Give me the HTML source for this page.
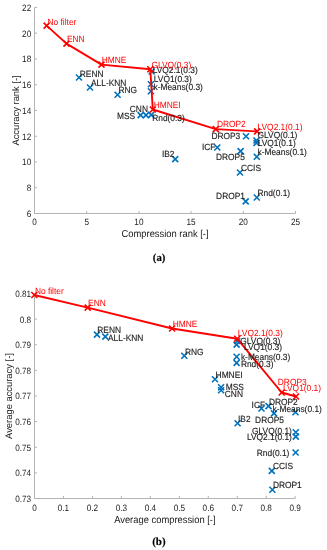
<!DOCTYPE html>
<html><head><meta charset="utf-8"><title>Accuracy vs compression</title>
<style>
html,body{margin:0;padding:0;background:#fff;}
body{width:327px;height:550px;overflow:hidden;}
svg{display:block;font-family:"Liberation Sans",Arial,sans-serif;}
text{paint-order:stroke;text-rendering:geometricPrecision;}
</style></head><body>
<svg width="327" height="550" viewBox="0 0 327 550">
<path d="M34.5 7.4V213.5H295.5" stroke="#b4b4b4" stroke-width="1" fill="none"/>
<path d="M34.5 213.50h2.6" stroke="#b4b4b4" stroke-width="1"/>
<text transform="translate(31.20 216.95) scale(1 1.12)" fill="#1a1a1a" font-size="8.2" text-anchor="end">6</text>
<path d="M34.5 187.74h2.6" stroke="#b4b4b4" stroke-width="1"/>
<text transform="translate(31.20 191.19) scale(1 1.12)" fill="#1a1a1a" font-size="8.2" text-anchor="end">8</text>
<path d="M34.5 161.97h2.6" stroke="#b4b4b4" stroke-width="1"/>
<text transform="translate(31.20 165.42) scale(1 1.12)" fill="#1a1a1a" font-size="8.2" text-anchor="end">10</text>
<path d="M34.5 136.21h2.6" stroke="#b4b4b4" stroke-width="1"/>
<text transform="translate(31.20 139.66) scale(1 1.12)" fill="#1a1a1a" font-size="8.2" text-anchor="end">12</text>
<path d="M34.5 110.45h2.6" stroke="#b4b4b4" stroke-width="1"/>
<text transform="translate(31.20 113.90) scale(1 1.12)" fill="#1a1a1a" font-size="8.2" text-anchor="end">14</text>
<path d="M34.5 84.69h2.6" stroke="#b4b4b4" stroke-width="1"/>
<text transform="translate(31.20 88.14) scale(1 1.12)" fill="#1a1a1a" font-size="8.2" text-anchor="end">16</text>
<path d="M34.5 58.93h2.6" stroke="#b4b4b4" stroke-width="1"/>
<text transform="translate(31.20 62.38) scale(1 1.12)" fill="#1a1a1a" font-size="8.2" text-anchor="end">18</text>
<path d="M34.5 33.16h2.6" stroke="#b4b4b4" stroke-width="1"/>
<text transform="translate(31.20 36.61) scale(1 1.12)" fill="#1a1a1a" font-size="8.2" text-anchor="end">20</text>
<path d="M34.5 7.40h2.6" stroke="#b4b4b4" stroke-width="1"/>
<text transform="translate(31.20 10.85) scale(1 1.12)" fill="#1a1a1a" font-size="8.2" text-anchor="end">22</text>
<path d="M34.50 213.5v-2.6" stroke="#b4b4b4" stroke-width="1"/>
<text transform="translate(34.50 224.75) scale(1 1.12)" fill="#1a1a1a" font-size="8.2" text-anchor="middle">0</text>
<path d="M86.70 213.5v-2.6" stroke="#b4b4b4" stroke-width="1"/>
<text transform="translate(86.70 224.75) scale(1 1.12)" fill="#1a1a1a" font-size="8.2" text-anchor="middle">5</text>
<path d="M138.90 213.5v-2.6" stroke="#b4b4b4" stroke-width="1"/>
<text transform="translate(138.90 224.75) scale(1 1.12)" fill="#1a1a1a" font-size="8.2" text-anchor="middle">10</text>
<path d="M191.10 213.5v-2.6" stroke="#b4b4b4" stroke-width="1"/>
<text transform="translate(191.10 224.75) scale(1 1.12)" fill="#1a1a1a" font-size="8.2" text-anchor="middle">15</text>
<path d="M243.30 213.5v-2.6" stroke="#b4b4b4" stroke-width="1"/>
<text transform="translate(243.30 224.75) scale(1 1.12)" fill="#1a1a1a" font-size="8.2" text-anchor="middle">20</text>
<path d="M295.50 213.5v-2.6" stroke="#b4b4b4" stroke-width="1"/>
<text transform="translate(295.50 224.75) scale(1 1.12)" fill="#1a1a1a" font-size="8.2" text-anchor="middle">25</text>
<text transform="translate(165.00 237.30) scale(1 1.07)" fill="#1a1a1a" font-size="9.4" text-anchor="middle">Compression rank [-]</text>
<text x="0" y="0" fill="#1a1a1a" font-size="9.4" text-anchor="middle" transform="translate(19.2 110.45) rotate(-90)">Accuracy rank [-]</text>
<path d="M76.00 74.50L82.00 80.50M76.00 80.50L82.00 74.50" stroke="#0072bd" stroke-width="1.6" fill="none"/>
<path d="M87.00 84.50L93.00 90.50M87.00 90.50L93.00 84.50" stroke="#0072bd" stroke-width="1.6" fill="none"/>
<path d="M114.60 91.80L120.60 97.80M114.60 97.80L120.60 91.80" stroke="#0072bd" stroke-width="1.6" fill="none"/>
<path d="M148.60 68.50L154.60 74.50M148.60 74.50L154.60 68.50" stroke="#0072bd" stroke-width="1.6" fill="none"/>
<path d="M147.90 81.30L153.90 87.30M147.90 87.30L153.90 81.30" stroke="#0072bd" stroke-width="1.6" fill="none"/>
<path d="M147.90 88.20L153.90 94.20M147.90 94.20L153.90 88.20" stroke="#0072bd" stroke-width="1.6" fill="none"/>
<path d="M137.60 112.10L143.60 118.10M137.60 118.10L143.60 112.10" stroke="#0072bd" stroke-width="1.6" fill="none"/>
<path d="M143.00 112.10L149.00 118.10M143.00 118.10L149.00 112.10" stroke="#0072bd" stroke-width="1.6" fill="none"/>
<path d="M148.20 111.90L154.20 117.90M148.20 117.90L154.20 111.90" stroke="#0072bd" stroke-width="1.6" fill="none"/>
<path d="M243.00 133.30L249.00 139.30M243.00 139.30L249.00 133.30" stroke="#0072bd" stroke-width="1.6" fill="none"/>
<path d="M253.50 137.50L259.50 143.50M253.50 143.50L259.50 137.50" stroke="#0072bd" stroke-width="1.6" fill="none"/>
<path d="M253.50 140.00L259.50 146.00M253.50 146.00L259.50 140.00" stroke="#0072bd" stroke-width="1.6" fill="none"/>
<path d="M253.80 153.80L259.80 159.80M253.80 159.80L259.80 153.80" stroke="#0072bd" stroke-width="1.6" fill="none"/>
<path d="M214.30 144.50L220.30 150.50M214.30 150.50L220.30 144.50" stroke="#0072bd" stroke-width="1.6" fill="none"/>
<path d="M237.60 148.10L243.60 154.10M237.60 154.10L243.60 148.10" stroke="#0072bd" stroke-width="1.6" fill="none"/>
<path d="M237.00 169.50L243.00 175.50M237.00 175.50L243.00 169.50" stroke="#0072bd" stroke-width="1.6" fill="none"/>
<path d="M172.20 156.10L178.20 162.10M172.20 162.10L178.20 156.10" stroke="#0072bd" stroke-width="1.6" fill="none"/>
<path d="M242.70 198.40L248.70 204.40M242.70 204.40L248.70 198.40" stroke="#0072bd" stroke-width="1.6" fill="none"/>
<path d="M253.80 194.50L259.80 200.50M253.80 200.50L259.80 194.50" stroke="#0072bd" stroke-width="1.6" fill="none"/>
<path d="M46.60 25.60L66.50 43.60L101.50 64.60L150.30 69.30L152.80 109.50L215.80 129.10L257.10 131.40" stroke="#ff0000" stroke-width="1.9" fill="none" stroke-linejoin="round"/>
<path d="M43.60 22.60L49.60 28.60M43.60 28.60L49.60 22.60" stroke="#ff0000" stroke-width="1.6" fill="none"/>
<path d="M63.50 40.60L69.50 46.60M63.50 46.60L69.50 40.60" stroke="#ff0000" stroke-width="1.6" fill="none"/>
<path d="M98.50 61.60L104.50 67.60M98.50 67.60L104.50 61.60" stroke="#ff0000" stroke-width="1.6" fill="none"/>
<path d="M147.30 66.30L153.30 72.30M147.30 72.30L153.30 66.30" stroke="#ff0000" stroke-width="1.6" fill="none"/>
<path d="M149.80 106.50L155.80 112.50M149.80 112.50L155.80 106.50" stroke="#ff0000" stroke-width="1.6" fill="none"/>
<path d="M212.80 126.10L218.80 132.10M212.80 132.10L218.80 126.10" stroke="#ff0000" stroke-width="1.6" fill="none"/>
<path d="M254.10 128.40L260.10 134.40M254.10 134.40L260.10 128.40" stroke="#ff0000" stroke-width="1.6" fill="none"/>
<text transform="translate(79.80 76.50) scale(1 1.07)" fill="#1a1a1a" stroke="#1a1a1a" stroke-width="0.12" font-size="8.4">RENN</text>
<text transform="translate(91.00 85.80) scale(1 1.07)" fill="#1a1a1a" stroke="#1a1a1a" stroke-width="0.12" font-size="8.4">ALL-KNN</text>
<text transform="translate(118.50 92.80) scale(1 1.07)" fill="#1a1a1a" stroke="#1a1a1a" stroke-width="0.12" font-size="8.4">RNG</text>
<text transform="translate(152.70 73.20) scale(1 1.07)" fill="#1a1a1a" stroke="#1a1a1a" stroke-width="0.12" font-size="8.4">LVQ2.1(0.3)</text>
<text transform="translate(153.80 82.10) scale(1 1.07)" fill="#1a1a1a" stroke="#1a1a1a" stroke-width="0.12" font-size="8.4">LVQ1(0.3)</text>
<text transform="translate(153.50 90.30) scale(1 1.07)" fill="#1a1a1a" stroke="#1a1a1a" stroke-width="0.12" font-size="8.4">k-Means(0.3)</text>
<text transform="translate(116.90 118.80) scale(1 1.07)" fill="#1a1a1a" stroke="#1a1a1a" stroke-width="0.12" font-size="8.4">MSS</text>
<text transform="translate(129.80 112.20) scale(1 1.07)" fill="#1a1a1a" stroke="#1a1a1a" stroke-width="0.12" font-size="8.4">CNN</text>
<text transform="translate(152.20 120.70) scale(1 1.07)" fill="#1a1a1a" stroke="#1a1a1a" stroke-width="0.12" font-size="8.4">Rnd(0.3)</text>
<text transform="translate(211.40 139.20) scale(1 1.07)" fill="#1a1a1a" stroke="#1a1a1a" stroke-width="0.12" font-size="8.4">DROP3</text>
<text transform="translate(257.50 137.50) scale(1 1.07)" fill="#1a1a1a" stroke="#1a1a1a" stroke-width="0.12" font-size="8.4">GLVQ(0.1)</text>
<text transform="translate(257.70 146.10) scale(1 1.07)" fill="#1a1a1a" stroke="#1a1a1a" stroke-width="0.12" font-size="8.4">LVQ1(0.1)</text>
<text transform="translate(257.50 155.20) scale(1 1.07)" fill="#1a1a1a" stroke="#1a1a1a" stroke-width="0.12" font-size="8.4">k-Means(0.1)</text>
<text transform="translate(201.90 150.30) scale(1 1.07)" fill="#1a1a1a" stroke="#1a1a1a" stroke-width="0.12" font-size="8.4">ICF</text>
<text transform="translate(216.00 160.40) scale(1 1.07)" fill="#1a1a1a" stroke="#1a1a1a" stroke-width="0.12" font-size="8.4">DROP5</text>
<text transform="translate(241.00 171.30) scale(1 1.07)" fill="#1a1a1a" stroke="#1a1a1a" stroke-width="0.12" font-size="8.4">CCIS</text>
<text transform="translate(161.90 156.80) scale(1 1.07)" fill="#1a1a1a" stroke="#1a1a1a" stroke-width="0.12" font-size="8.4">IB2</text>
<text transform="translate(216.10 199.00) scale(1 1.07)" fill="#1a1a1a" stroke="#1a1a1a" stroke-width="0.12" font-size="8.4">DROP1</text>
<text transform="translate(257.50 195.80) scale(1 1.07)" fill="#1a1a1a" stroke="#1a1a1a" stroke-width="0.12" font-size="8.4">Rnd(0.1)</text>
<text transform="translate(47.50 25.00) scale(1 1.07)" fill="#ff0000" font-size="8.4">No filter</text>
<text transform="translate(66.90 42.30) scale(1 1.07)" fill="#ff0000" font-size="8.4">ENN</text>
<text transform="translate(101.80 62.80) scale(1 1.07)" fill="#ff0000" font-size="8.4">HMNE</text>
<text transform="translate(151.40 67.60) scale(1 1.07)" fill="#ff0000" font-size="8.4">GLVQ(0.3)</text>
<text transform="translate(153.70 108.00) scale(1 1.07)" fill="#ff0000" font-size="8.4">HMNEI</text>
<text transform="translate(216.90 127.30) scale(1 1.07)" fill="#ff0000" font-size="8.4">DROP2</text>
<text transform="translate(257.50 130.10) scale(1 1.07)" fill="#ff0000" font-size="8.4">LVQ2.1(0.1)</text>
<text x="159.10" y="260.70" fill="#000" stroke="#000" stroke-width="0.15" font-size="10.8" text-anchor="middle" font-family="Liberation Serif, serif" font-weight="bold">(a)</text>
<path d="M34.5 293.5V498.5H295.2" stroke="#b4b4b4" stroke-width="1" fill="none"/>
<path d="M34.5 498.50h2.6" stroke="#b4b4b4" stroke-width="1"/>
<text transform="translate(31.10 501.95) scale(1 1.12)" fill="#1a1a1a" font-size="8.2" text-anchor="end">0.73</text>
<path d="M34.5 472.88h2.6" stroke="#b4b4b4" stroke-width="1"/>
<text transform="translate(31.10 476.32) scale(1 1.12)" fill="#1a1a1a" font-size="8.2" text-anchor="end">0.74</text>
<path d="M34.5 447.25h2.6" stroke="#b4b4b4" stroke-width="1"/>
<text transform="translate(31.10 450.70) scale(1 1.12)" fill="#1a1a1a" font-size="8.2" text-anchor="end">0.75</text>
<path d="M34.5 421.62h2.6" stroke="#b4b4b4" stroke-width="1"/>
<text transform="translate(31.10 425.07) scale(1 1.12)" fill="#1a1a1a" font-size="8.2" text-anchor="end">0.76</text>
<path d="M34.5 396.00h2.6" stroke="#b4b4b4" stroke-width="1"/>
<text transform="translate(31.10 399.45) scale(1 1.12)" fill="#1a1a1a" font-size="8.2" text-anchor="end">0.77</text>
<path d="M34.5 370.37h2.6" stroke="#b4b4b4" stroke-width="1"/>
<text transform="translate(31.10 373.82) scale(1 1.12)" fill="#1a1a1a" font-size="8.2" text-anchor="end">0.78</text>
<path d="M34.5 344.75h2.6" stroke="#b4b4b4" stroke-width="1"/>
<text transform="translate(31.10 348.20) scale(1 1.12)" fill="#1a1a1a" font-size="8.2" text-anchor="end">0.79</text>
<path d="M34.5 319.12h2.6" stroke="#b4b4b4" stroke-width="1"/>
<text transform="translate(31.10 322.57) scale(1 1.12)" fill="#1a1a1a" font-size="8.2" text-anchor="end">0.8</text>
<path d="M34.5 293.50h2.6" stroke="#b4b4b4" stroke-width="1"/>
<text transform="translate(31.10 296.95) scale(1 1.12)" fill="#1a1a1a" font-size="8.2" text-anchor="end">0.81</text>
<path d="M34.50 498.5v-2.6" stroke="#b4b4b4" stroke-width="1"/>
<text transform="translate(34.50 511.45) scale(1 1.12)" fill="#1a1a1a" font-size="8.2" text-anchor="middle">0</text>
<path d="M63.47 498.5v-2.6" stroke="#b4b4b4" stroke-width="1"/>
<text transform="translate(63.47 511.45) scale(1 1.12)" fill="#1a1a1a" font-size="8.2" text-anchor="middle">0.1</text>
<path d="M92.43 498.5v-2.6" stroke="#b4b4b4" stroke-width="1"/>
<text transform="translate(92.43 511.45) scale(1 1.12)" fill="#1a1a1a" font-size="8.2" text-anchor="middle">0.2</text>
<path d="M121.40 498.5v-2.6" stroke="#b4b4b4" stroke-width="1"/>
<text transform="translate(121.40 511.45) scale(1 1.12)" fill="#1a1a1a" font-size="8.2" text-anchor="middle">0.3</text>
<path d="M150.37 498.5v-2.6" stroke="#b4b4b4" stroke-width="1"/>
<text transform="translate(150.37 511.45) scale(1 1.12)" fill="#1a1a1a" font-size="8.2" text-anchor="middle">0.4</text>
<path d="M179.33 498.5v-2.6" stroke="#b4b4b4" stroke-width="1"/>
<text transform="translate(179.33 511.45) scale(1 1.12)" fill="#1a1a1a" font-size="8.2" text-anchor="middle">0.5</text>
<path d="M208.30 498.5v-2.6" stroke="#b4b4b4" stroke-width="1"/>
<text transform="translate(208.30 511.45) scale(1 1.12)" fill="#1a1a1a" font-size="8.2" text-anchor="middle">0.6</text>
<path d="M237.27 498.5v-2.6" stroke="#b4b4b4" stroke-width="1"/>
<text transform="translate(237.27 511.45) scale(1 1.12)" fill="#1a1a1a" font-size="8.2" text-anchor="middle">0.7</text>
<path d="M266.23 498.5v-2.6" stroke="#b4b4b4" stroke-width="1"/>
<text transform="translate(266.23 511.45) scale(1 1.12)" fill="#1a1a1a" font-size="8.2" text-anchor="middle">0.8</text>
<path d="M295.20 498.5v-2.6" stroke="#b4b4b4" stroke-width="1"/>
<text transform="translate(295.20 511.45) scale(1 1.12)" fill="#1a1a1a" font-size="8.2" text-anchor="middle">0.9</text>
<text transform="translate(164.85 522.60) scale(1 1.07)" fill="#1a1a1a" font-size="9.4" text-anchor="middle">Average compression [-]</text>
<text x="0" y="0" fill="#1a1a1a" font-size="9.4" text-anchor="middle" transform="translate(11.8 396.00) rotate(-90)">Average accuracy [-]</text>
<path d="M94.00 331.60L100.00 337.60M94.00 337.60L100.00 331.60" stroke="#0072bd" stroke-width="1.6" fill="none"/>
<path d="M102.30 333.60L108.30 339.60M102.30 339.60L108.30 333.60" stroke="#0072bd" stroke-width="1.6" fill="none"/>
<path d="M181.30 352.80L187.30 358.80M181.30 358.80L187.30 352.80" stroke="#0072bd" stroke-width="1.6" fill="none"/>
<path d="M234.20 338.00L240.20 344.00M234.20 344.00L240.20 338.00" stroke="#0072bd" stroke-width="1.6" fill="none"/>
<path d="M233.60 341.60L239.60 347.60M233.60 347.60L239.60 341.60" stroke="#0072bd" stroke-width="1.6" fill="none"/>
<path d="M233.60 353.80L239.60 359.80M233.60 359.80L239.60 353.80" stroke="#0072bd" stroke-width="1.6" fill="none"/>
<path d="M233.60 359.90L239.60 365.90M233.60 365.90L239.60 359.90" stroke="#0072bd" stroke-width="1.6" fill="none"/>
<path d="M212.00 376.30L218.00 382.30M212.00 382.30L218.00 376.30" stroke="#0072bd" stroke-width="1.6" fill="none"/>
<path d="M218.10 384.20L224.10 390.20M218.10 390.20L224.10 384.20" stroke="#0072bd" stroke-width="1.6" fill="none"/>
<path d="M218.10 387.30L224.10 393.30M218.10 393.30L224.10 387.30" stroke="#0072bd" stroke-width="1.6" fill="none"/>
<path d="M234.60 420.30L240.60 426.30M234.60 426.30L240.60 420.30" stroke="#0072bd" stroke-width="1.6" fill="none"/>
<path d="M258.50 405.50L264.50 411.50M258.50 411.50L264.50 405.50" stroke="#0072bd" stroke-width="1.6" fill="none"/>
<path d="M265.50 403.10L271.50 409.10M265.50 409.10L271.50 403.10" stroke="#0072bd" stroke-width="1.6" fill="none"/>
<path d="M271.00 410.40L277.00 416.40M271.00 416.40L277.00 410.40" stroke="#0072bd" stroke-width="1.6" fill="none"/>
<path d="M292.50 409.20L298.50 415.20M292.50 415.20L298.50 409.20" stroke="#0072bd" stroke-width="1.6" fill="none"/>
<path d="M292.80 429.20L298.80 435.20M292.80 435.20L298.80 429.20" stroke="#0072bd" stroke-width="1.6" fill="none"/>
<path d="M292.80 433.60L298.80 439.60M292.80 439.60L298.80 433.60" stroke="#0072bd" stroke-width="1.6" fill="none"/>
<path d="M292.60 449.50L298.60 455.50M292.60 455.50L298.60 449.50" stroke="#0072bd" stroke-width="1.6" fill="none"/>
<path d="M268.80 467.90L274.80 473.90M268.80 473.90L274.80 467.90" stroke="#0072bd" stroke-width="1.6" fill="none"/>
<path d="M269.40 486.80L275.40 492.80M269.40 492.80L275.40 486.80" stroke="#0072bd" stroke-width="1.6" fill="none"/>
<path d="M34.30 295.00L87.70 307.60L172.10 328.50L237.20 338.70L281.70 392.50L296.00 396.50" stroke="#ff0000" stroke-width="1.9" fill="none" stroke-linejoin="round"/>
<path d="M31.30 292.00L37.30 298.00M31.30 298.00L37.30 292.00" stroke="#ff0000" stroke-width="1.6" fill="none"/>
<path d="M84.70 304.60L90.70 310.60M84.70 310.60L90.70 304.60" stroke="#ff0000" stroke-width="1.6" fill="none"/>
<path d="M169.10 325.50L175.10 331.50M169.10 331.50L175.10 325.50" stroke="#ff0000" stroke-width="1.6" fill="none"/>
<path d="M234.20 335.70L240.20 341.70M234.20 341.70L240.20 335.70" stroke="#ff0000" stroke-width="1.6" fill="none"/>
<path d="M278.70 389.50L284.70 395.50M278.70 395.50L284.70 389.50" stroke="#ff0000" stroke-width="1.6" fill="none"/>
<path d="M293.00 393.50L299.00 399.50M293.00 399.50L299.00 393.50" stroke="#ff0000" stroke-width="1.6" fill="none"/>
<text transform="translate(97.30 333.00) scale(1 1.07)" fill="#1a1a1a" stroke="#1a1a1a" stroke-width="0.12" font-size="8.4">RENN</text>
<text transform="translate(108.00 341.00) scale(1 1.07)" fill="#1a1a1a" stroke="#1a1a1a" stroke-width="0.12" font-size="8.4">ALL-KNN</text>
<text transform="translate(185.00 354.60) scale(1 1.07)" fill="#1a1a1a" stroke="#1a1a1a" stroke-width="0.12" font-size="8.4">RNG</text>
<text transform="translate(240.30 343.50) scale(1 1.07)" fill="#1a1a1a" stroke="#1a1a1a" stroke-width="0.12" font-size="8.4">GLVQ(0.3)</text>
<text transform="translate(244.00 349.70) scale(1 1.07)" fill="#1a1a1a" stroke="#1a1a1a" stroke-width="0.12" font-size="8.4">LVQ1(0.3)</text>
<text transform="translate(240.90 360.10) scale(1 1.07)" fill="#1a1a1a" stroke="#1a1a1a" stroke-width="0.12" font-size="8.4">k-Means(0.3)</text>
<text transform="translate(240.90 366.80) scale(1 1.07)" fill="#1a1a1a" stroke="#1a1a1a" stroke-width="0.12" font-size="8.4">Rnd(0.3)</text>
<text transform="translate(215.60 377.70) scale(1 1.07)" fill="#1a1a1a" stroke="#1a1a1a" stroke-width="0.12" font-size="8.4">HMNEI</text>
<text transform="translate(225.70 389.60) scale(1 1.07)" fill="#1a1a1a" stroke="#1a1a1a" stroke-width="0.12" font-size="8.4">MSS</text>
<text transform="translate(224.80 396.60) scale(1 1.07)" fill="#1a1a1a" stroke="#1a1a1a" stroke-width="0.12" font-size="8.4">CNN</text>
<text transform="translate(238.00 421.70) scale(1 1.07)" fill="#1a1a1a" stroke="#1a1a1a" stroke-width="0.12" font-size="8.4">IB2</text>
<text transform="translate(251.60 407.80) scale(1 1.07)" fill="#1a1a1a" stroke="#1a1a1a" stroke-width="0.12" font-size="8.4">ICF</text>
<text transform="translate(268.90 405.10) scale(1 1.07)" fill="#1a1a1a" stroke="#1a1a1a" stroke-width="0.12" font-size="8.4">DROP2</text>
<text transform="translate(255.10 423.40) scale(1 1.07)" fill="#1a1a1a" stroke="#1a1a1a" stroke-width="0.12" font-size="8.4">DROP5</text>
<text transform="translate(272.50 412.10) scale(1 1.07)" fill="#1a1a1a" stroke="#1a1a1a" stroke-width="0.12" font-size="8.4">k-Means(0.1)</text>
<text transform="translate(291.90 434.30) scale(1 1.07)" fill="#1a1a1a" stroke="#1a1a1a" stroke-width="0.12" font-size="8.4" text-anchor="end">GLVQ(0.1)</text>
<text transform="translate(291.90 440.40) scale(1 1.07)" fill="#1a1a1a" stroke="#1a1a1a" stroke-width="0.12" font-size="8.4" text-anchor="end">LVQ2.1(0.1)</text>
<text transform="translate(289.40 456.00) scale(1 1.07)" fill="#1a1a1a" stroke="#1a1a1a" stroke-width="0.12" font-size="8.4" text-anchor="end">Rnd(0.1)</text>
<text transform="translate(273.00 469.20) scale(1 1.07)" fill="#1a1a1a" stroke="#1a1a1a" stroke-width="0.12" font-size="8.4">CCIS</text>
<text transform="translate(272.90 488.30) scale(1 1.07)" fill="#1a1a1a" stroke="#1a1a1a" stroke-width="0.12" font-size="8.4">DROP1</text>
<text transform="translate(34.90 294.40) scale(1 1.07)" fill="#ff0000" font-size="8.4">No filter</text>
<text transform="translate(88.10 306.20) scale(1 1.07)" fill="#ff0000" font-size="8.4">ENN</text>
<text transform="translate(172.80 327.20) scale(1 1.07)" fill="#ff0000" font-size="8.4">HMNE</text>
<text transform="translate(237.80 336.20) scale(1 1.07)" fill="#ff0000" font-size="8.4">LVQ2.1(0.3)</text>
<text transform="translate(277.80 384.60) scale(1 1.07)" fill="#ff0000" font-size="8.4">DROP3</text>
<text transform="translate(283.00 391.00) scale(1 1.07)" fill="#ff0000" font-size="8.4">LVQ1(0.1)</text>
<text x="158.90" y="545.20" fill="#000" stroke="#000" stroke-width="0.15" font-size="11" text-anchor="middle" font-family="Liberation Serif, serif" font-weight="bold">(b)</text>
</svg>
</body></html>
